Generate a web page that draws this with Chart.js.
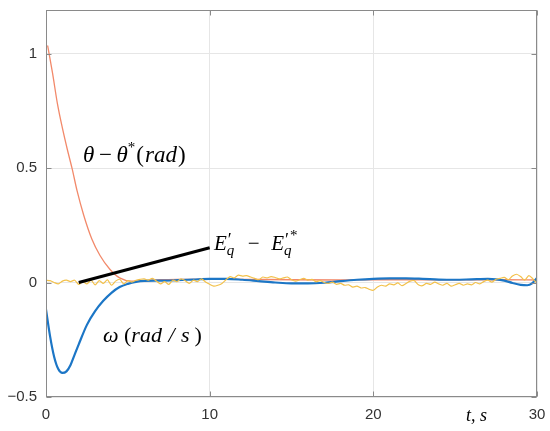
<!DOCTYPE html>
<html><head><meta charset="utf-8">
<script src="https://cdn.jsdelivr.net/npm/chart.js@4/dist/chart.umd.min.js"></script>
<style>html,body{margin:0;padding:0;background:#fff}#wrap{width:550px;height:431px;position:relative}</style>
</head><body><div id="wrap"><canvas id="c"></canvas></div>
<script>
// ---- data ----
const thetaT = [0.1, 0.4, 0.7, 1.0, 1.3, 1.6, 1.9, 2.3, 2.8, 3.3, 3.9, 4.5, 5.2, 6.0, 7.0, 8.0, 10.0, 12.0, 15.0, 18.0, 20.0, 22.0, 25.0, 28.0, 30.0];
const thetaV = [1.035, 0.914, 0.78, 0.675, 0.582, 0.496, 0.40, 0.295, 0.19, 0.118, 0.058, 0.02, 0.006, 0.008, 0.012, 0.014, 0.015, 0.014, 0.012, 0.011, 0.012, 0.012, 0.012, 0.012, 0.011];

const omegaT = [0, 0.25, 0.5, 0.75, 1.0, 1.25, 1.5, 1.75, 2.0, 2.5, 3.0, 3.5, 4.0, 4.5, 5.0, 5.5, 6, 7, 8, 9, 10, 11, 12, 13, 14, 15, 16, 17, 18, 19, 20, 21, 22, 23, 24, 25, 26, 27, 27.5, 28, 28.5, 29, 29.4, 29.7, 30];
const omegaV = [-0.117, -0.235, -0.325, -0.378, -0.395, -0.388, -0.36, -0.315, -0.27, -0.185, -0.125, -0.08, -0.045, -0.02, -0.006, 0.003, 0.007, 0.008, 0.01, 0.013, 0.016, 0.016, 0.012, 0.006, 0.0, -0.004, -0.004, -0.001, 0.006, 0.012, 0.016, 0.018, 0.018, 0.016, 0.013, 0.012, 0.014, 0.016, 0.014, 0.008, -0.002, -0.01, -0.012, -0.004, 0.02];

const eqT = [0, 0.25, 0.5, 0.75, 1, 1.25, 1.5, 1.75, 2, 2.25, 2.5, 2.75, 3, 3.25, 3.5, 3.75, 4, 4.25, 4.5, 4.75,
  5, 5.25, 5.5, 5.75, 6, 6.25, 6.5, 6.75, 7, 7.25, 7.5, 7.75, 8, 8.25, 8.5, 8.75, 9, 9.25, 9.5, 9.75,
  10, 10.25, 10.5, 10.75, 11, 11.25, 11.5, 11.75, 12, 12.25, 12.5, 12.75, 13, 13.25, 13.5, 13.75, 14, 14.25, 14.5, 14.75,
  15, 15.25, 15.5, 15.75, 16, 16.25, 16.5, 16.75, 17, 17.25, 17.5, 17.75, 18, 18.25, 18.5, 18.75, 19, 19.25, 19.5, 19.75,
  20, 20.25, 20.5, 20.75, 21, 21.25, 21.5, 21.75, 22, 22.25, 22.5, 22.75, 23, 23.25, 23.5, 23.75, 24, 24.25, 24.5, 24.75,
  25, 25.25, 25.5, 25.75, 26, 26.25, 26.5, 26.75, 27, 27.25, 27.5, 27.75, 28, 28.25, 28.5, 28.75, 29, 29.25, 29.5, 29.75, 30];
const eqV = [0.010, 0.008, 0.000, -0.006, 0.006, 0.010, 0.004, 0.010, -0.008, 0.004, -0.006, 0.010, -0.010, 0.008, -0.004, 0.012, -0.012, 0.006, 0.014, -0.006,
  0.008, 0.002, 0.010, 0.014, 0.016, 0.010, 0.018, 0.006, -0.006, 0.004, -0.008, 0.010, 0.004, 0.016, 0.008, -0.004, 0.010, 0.004, 0.016, 0.002,
  -0.008, -0.016, -0.012, -0.004, 0.012, 0.026, 0.020, 0.032, 0.028, 0.030, 0.024, 0.018, 0.012, 0.024, 0.020, 0.026, 0.022, 0.016, 0.020, 0.024,
  0.012, 0.006, 0.012, 0.018, 0.010, 0.014, 0.004, 0.008, 0.000, -0.004, 0.002, -0.008, -0.004, -0.012, -0.010, -0.020, -0.016, -0.024, -0.022, -0.030,
  -0.034, -0.020, -0.012, -0.016, -0.006, -0.010, -0.002, -0.014, -0.004, 0.006, 0.008, -0.010, -0.014, -0.004, -0.008, 0.002, -0.006, -0.012, -0.004, -0.016,
  -0.010, -0.004, -0.012, -0.006, -0.010, 0.000, -0.006, 0.004, 0.010, 0.002, 0.014, 0.018, 0.022, 0.012, 0.028, 0.036, 0.026, 0.010, 0.030, 0.016, -0.004];

const pointerT = [2.0, 10.0];
const pointerV = [0.0, 0.152];

const xTicks = [0, 10, 20, 30];
const xTickLabels = ['0', '10', '20', '30'];
const yTicks = [-0.5, 0, 0.5, 1];
const yTickLabels = ['\u22120.5', '0', '0.5', '1'];

function pts(t, v) { return t.map((x, i) => ({ x: x, y: v[i] })); }

const frame = {
  id: 'frame',
  afterDatasetsDraw(chart) {
    const { ctx, chartArea: a, scales } = chart;
    const L = Math.round(a.left) + 0.5, R = Math.round(a.right) - 0.5;
    const T = Math.round(a.top) + 0.5, B = Math.round(a.bottom) - 0.5;
    ctx.save();
    ctx.strokeStyle = '#8a8a8a';
    ctx.lineWidth = 1;
    ctx.strokeRect(L, T, R - L, B - T);
    ctx.beginPath();
    xTicks.forEach(v => {
      const px = Math.round(scales.x.getPixelForValue(v)) + 0.5;
      ctx.moveTo(px, B); ctx.lineTo(px, B - 5);
      ctx.moveTo(px, T); ctx.lineTo(px, T + 5);
    });
    yTicks.forEach(v => {
      const py = Math.round(scales.y.getPixelForValue(v)) + 0.5;
      ctx.moveTo(L, py); ctx.lineTo(L + 5, py);
      ctx.moveTo(R, py); ctx.lineTo(R - 5, py);
    });
    ctx.stroke();
    ctx.restore();
  },
  afterDraw(chart) {
    const ctx = chart.ctx;
    const SERIF = '"Liberation Serif", "DejaVu Serif", serif';
    function rich(x, y, parts) {
      ctx.save();
      ctx.fillStyle = '#000';
      ctx.textBaseline = 'alphabetic';
      ctx.textAlign = 'left';
      let cx = x;
      parts.forEach(p => {
        ctx.font = (p.i ? 'italic ' : '') + p.s + 'px ' + SERIF;
        const dx = p.dx || 0;
        ctx.fillText(p.t, cx + dx, y + (p.dy || 0));
        if (!p.noAdv) cx += dx + ctx.measureText(p.t).width;
      });
      ctx.restore();
    }
    // theta - theta*(rad)
    rich(83, 162, [
      { t: '\u03B8', i: true, s: 23 },
      { t: '\u2009\u2212\u2009', s: 23 },
      { t: '\u03B8', i: true, s: 23 },
      { t: '*', s: 15, dy: -10 },
      { t: '(', s: 23, dx: 1 },
      { t: 'rad', i: true, s: 23, dx: 1 },
      { t: ')', s: 23, dx: 1 }
    ]);
    // E'q - E'q*
    rich(214, 250, [
      { t: 'E', i: true, s: 21 },
      { t: '\u2032', i: false, s: 18, dy: -4, noAdv: true, dx: 1 },
      { t: 'q', i: true, s: 15, dy: 5 },
      { t: '\u2002\u2212\u2002', s: 21, dx: 3 },
      { t: 'E', i: true, s: 21, dx: 1 },
      { t: '\u2032', i: false, s: 18, dy: -4, noAdv: true, dx: 1 },
      { t: '*', s: 15, dy: -10, noAdv: true, dx: 6 },
      { t: 'q', i: true, s: 15, dy: 5 }
    ]);
    // omega (rad / s)
    rich(103, 342, [
      { t: '\u03C9', i: true, s: 22 },
      { t: ' (', s: 22 },
      { t: 'rad', i: true, s: 22 },
      { t: ' / ', i: true, s: 22, dx: 1 },
      { t: 's', i: true, s: 22, dx: 1 },
      { t: ')', s: 22, dx: 5 }
    ]);
    // axis label t, s
    rich(466, 421, [{ t: 't, s', i: true, s: 18 }]);
  }
};

const TICKFONT = { family: '"Liberation Sans", Arial, sans-serif', size: 15 };
function noPad(s) { s.paddingTop = 0; s.paddingBottom = 0; s.paddingLeft = 0; s.paddingRight = 0; }

new Chart(document.getElementById('c'), {
  type: 'line',
  data: {
    datasets: [
      { label: 'pointer', data: pts(pointerT, pointerV), borderColor: '#000', borderWidth: 3, pointRadius: 0, tension: 0, order: 0, borderCapStyle: 'butt' },
      { label: 'Eq', data: pts(eqT, eqV), borderColor: '#f3c14a', borderWidth: 1.2, pointRadius: 0, tension: 0.25, order: 1 },
      { label: 'omega', data: pts(omegaT, omegaV), borderColor: '#1c76c6', borderWidth: 2.2, pointRadius: 0, cubicInterpolationMode: 'monotone', order: 2 },
      { label: 'theta', data: pts(thetaT, thetaV), borderColor: '#f2896a', borderWidth: 1.3, pointRadius: 0, cubicInterpolationMode: 'monotone', order: 3 }
    ]
  },
  options: {
    responsive: true,
    maintainAspectRatio: false,
    animation: false,
    events: [],
    layout: { padding: { left: 0, top: 10, right: 13, bottom: 0 } },
    plugins: { legend: { display: false }, tooltip: { enabled: false } },
    scales: {
      x: {
        type: 'linear', min: 0, max: 30,
        afterBuildTicks: s => { s.ticks = xTicks.map(v => ({ value: v })); },
        afterFit: s => { s.height = 34; noPad(s); },
        grid: { color: '#e6e6e6', drawTicks: false },
        border: { display: false },
        ticks: { padding: 9, color: '#333', font: TICKFONT, maxRotation: 0, callback: (v, i) => xTickLabels[i] }
      },
      y: {
        type: 'linear', min: -0.5, max: 1.19,
        afterBuildTicks: s => { s.ticks = yTicks.map(v => ({ value: v })); },
        afterFit: s => { s.width = 46; noPad(s); },
        grid: { color: '#e6e6e6', drawTicks: false },
        border: { display: false },
        ticks: { padding: 9, color: '#333', font: TICKFONT, callback: (v, i) => yTickLabels[i] }
      }
    }
  },
  plugins: [frame]
});
</script>
</body></html>
